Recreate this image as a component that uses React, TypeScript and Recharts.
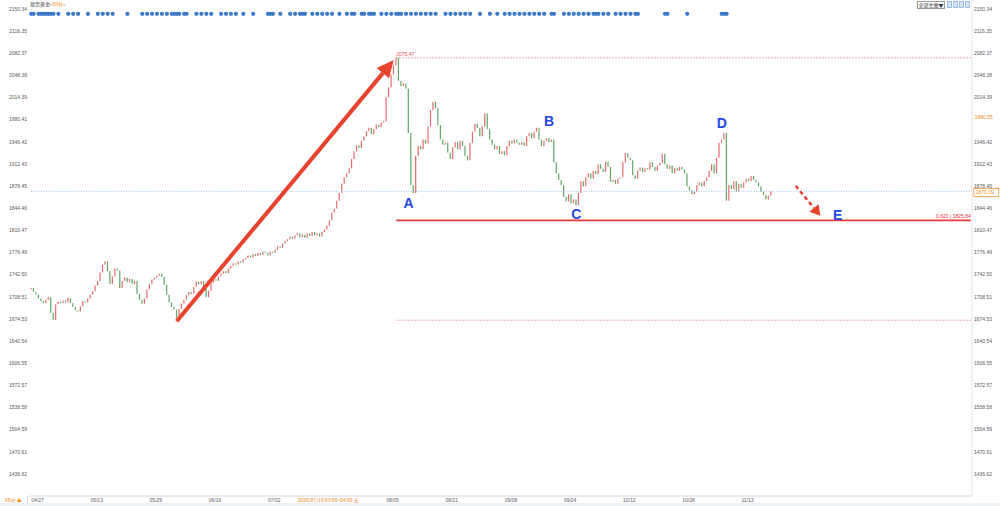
import React from "react";
import {
  ComposedChart,
  Bar,
  Scatter,
  XAxis,
  YAxis,
  ReferenceLine,
  ReferenceDot,
} from "recharts";

// 60-minute gold chart, sampled at two candles per trading day
const firstOpen = 1720;
const closesApr27 = [1722, 1716, 1712, 1706, 1702, 1699, 1704, 1708, 1684, 1673, 1697, 1701, 1699, 1703, 1700, 1707, 1699, 1693, 1688, 1686, 1694, 1702, 1700, 1706];
const closesMay13 = [1712, 1717, 1726, 1733, 1746, 1758, 1763, 1748, 1728, 1740, 1752, 1749, 1722, 1733, 1738, 1731, 1736, 1728, 1733, 1713, 1704, 1698, 1706, 1720];
const closesMay29 = [1728, 1735, 1738, 1741, 1744, 1739, 1727, 1712, 1700, 1693, 1689, 1676, 1690, 1698, 1704, 1711, 1716, 1713, 1724, 1732, 1728, 1733, 1722, 1708];
const closesJun16 = [1718, 1730, 1736, 1733, 1740, 1744, 1748, 1745, 1752, 1756, 1760, 1758, 1763, 1761, 1766, 1768, 1772, 1769, 1774, 1771, 1776, 1773, 1778, 1776];
const closesJul02 = [1772, 1778, 1776, 1781, 1786, 1784, 1790, 1794, 1797, 1801, 1798, 1803, 1806, 1800, 1804, 1799, 1806, 1802, 1808, 1803, 1806, 1801, 1808, 1812];
const closesJul20 = [1818, 1826, 1838, 1844, 1856, 1868, 1882, 1892, 1898, 1906, 1920, 1932, 1941, 1937, 1948, 1955, 1963, 1968, 1958, 1966, 1973, 1969, 1976, 1978];
const closesAug05 = [2015, 2030, 2050, 2064, 2075.47, 2040, 2032, 2036, 2028, 1960, 1880, 1868, 1925, 1940, 1935, 1950, 1944, 1970, 1995, 2008, 1998, 1972, 1950, 1942];
const closesAug21 = [1945, 1930, 1920, 1938, 1946, 1935, 1948, 1940, 1925, 1918, 1945, 1962, 1974, 1968, 1955, 1970, 1990, 1966, 1950, 1942, 1935, 1940, 1928, 1932];
const closesSep08 = [1926, 1940, 1948, 1944, 1950, 1945, 1942, 1946, 1940, 1955, 1960, 1952, 1962, 1968, 1950, 1940, 1948, 1952, 1946, 1950, 1915, 1898, 1888, 1880];
const closesSep24 = [1862, 1855, 1866, 1852, 1858, 1849, 1868, 1886, 1878, 1892, 1898, 1890, 1902, 1897, 1912, 1905, 1900, 1916, 1908, 1885, 1888, 1882, 1890, 1892];
const closesOct12 = [1915, 1929, 1922, 1918, 1895, 1890, 1902, 1907, 1900, 1906, 1904, 1915, 1908, 1902, 1910, 1914, 1928, 1912, 1905, 1910, 1898, 1906, 1902, 1908];
const closesOct28 = [1904, 1898, 1878, 1872, 1866, 1870, 1880, 1884, 1878, 1886, 1892, 1902, 1912, 1898, 1922, 1945, 1950, 1960, 1856, 1880, 1874, 1886, 1870, 1882];
const closesNov13 = [1876, 1884, 1890, 1886, 1894, 1888, 1884, 1878, 1870, 1865, 1858, 1864, 1870.39];

const closes = [
  ...closesApr27, ...closesMay13, ...closesMay29, ...closesJun16, ...closesJul02,
  ...closesJul20, ...closesAug05, ...closesAug21, ...closesSep08, ...closesSep24,
  ...closesOct12, ...closesOct28, ...closesNov13,
];

const totalSlots = 382; // candles + empty space on the right

const dateLabels: Record<number, string> = {
  0: "04/27", 24: "05/13", 48: "05/29", 72: "06/16", 96: "07/02",
  144: "08/05", 168: "08/21", 192: "09/08", 216: "09/24",
  240: "10/12", 264: "10/28", 288: "11/13",
};
const crossIdx = 108;
const crossLabel = "2020/07/10 03:00~04:00 五";

const priceTicks = [2150.34, 2116.35, 2082.37, 2048.38, 2014.39, 1980.41, 1946.42, 1912.43, 1878.45, 1844.46, 1810.47, 1776.49, 1742.5, 1708.51, 1674.53, 1640.54, 1606.55, 1572.57, 1538.58, 1504.59, 1470.61, 1436.62];
const priceDomain = [1402.84, 2164.15];

const eventIdx = [0, 1, 3, 4, 5, 6, 7, 8, 9, 11, 15, 17, 19, 23, 27, 29, 31, 33, 39, 45, 47, 49, 51, 53, 55, 57, 58, 59, 60, 62, 63, 67, 69, 71, 73, 77, 79, 81, 83, 86, 90, 96, 97, 98, 101, 105, 107, 109, 110, 111, 114, 116, 118, 120, 122, 125, 128, 130, 131, 134, 135, 137, 138, 139, 142, 144, 146, 148, 149, 150, 152, 154, 156, 158, 160, 162, 164, 168, 170, 172, 174, 176, 178, 182, 186, 189, 192, 194, 196, 198, 200, 202, 204, 206, 208, 211, 212, 216, 218, 220, 222, 224, 226, 228, 229, 230, 232, 234, 237, 239, 241, 243, 245, 246, 257, 258, 266, 280, 281, 282];
const markerLevel = 2143;

const peakPrice = 2075.47;
const lowPrice = 1672.6;
const fibLevel = 1825.84;
const lastPrice = 1870.39;
const crossPrice = 1980.55;
const hiddenRightTick = 1980.41; // covered by the crosshair price tag

const RED = "#e8432e";
const BLUE = "#1f47e8";
const ORANGE = "#f08a1c";
const TXT = "#5a5a5a";
const FONT = "'Liberation Sans', Arial, sans-serif";
const CJK = "'Noto Sans CJK SC', 'Liberation Sans', sans-serif";
const PLOT_LEFT = 30;

function buildRows() {
  const rows: any[] = [];
  let prev = firstOpen;
  for (let i = 0; i < totalSlots; i++) {
    const row: any = { i };
    if (i < closes.length) {
      const c = closes[i];
      row.body = [Math.min(prev, c), Math.max(prev, c)];
      row.up = c >= prev;
      prev = c;
    }
    rows.push(row);
  }
  return rows;
}

const Candle = (p: any) => {
  const { x, y, width, height, payload } = p;
  if (!Number.isFinite(x) || !Number.isFinite(y) || !payload || !payload.body) return <g />;
  const cx = x + width / 2;
  const top = height < 0 ? y + height : y;
  const h = Math.max(Math.abs(height), 1);
  return (
    <rect
      x={cx - 0.6}
      y={top}
      width={1.2}
      height={h}
      fill={payload.up ? "#e46a6a" : "#5fa663"}
    />
  );
};

const DateTick = (p: any) => {
  const { x, y, payload } = p;
  const idx = payload.value;
  if (idx === crossIdx) {
    return (
      <text x={x} y={y + 6} fontSize={5} fill={ORANGE} fontFamily={CJK}>
        {crossLabel}
      </text>
    );
  }
  const s = dateLabels[idx];
  if (!s) return <g />;
  return (
    <text x={x} y={y + 6} fontSize={5} fill={TXT} fontFamily={FONT}>
      {s}
    </text>
  );
};

// price labels drawn on both sides of the plot, at the right axis' tick positions
const PriceTick = (p: any) => {
  const { x, y, payload } = p;
  const v: number = payload.value;
  const s = v.toFixed(2);
  return (
    <g>
      <text x={PLOT_LEFT - 3} y={y} dy="0.35em" fontSize={5} fill={TXT} fontFamily={FONT} textAnchor="end">
        {s}
      </text>
      {v !== hiddenRightTick && (
        <text x={x} y={y} dy="0.35em" fontSize={5} fill={TXT} fontFamily={FONT} textAnchor="start">
          {s}
        </text>
      )}
    </g>
  );
};

const arrowShape = (dashed: boolean, w: number, head: number, half: number) => (p: any) => {
  const { x1, y1, x2, y2 } = p;
  if (![x1, y1, x2, y2].every(Number.isFinite)) return <g />;
  const ang = Math.atan2(y2 - y1, x2 - x1);
  const bx = x2 - head * Math.cos(ang);
  const by = y2 - head * Math.sin(ang);
  const nx = -Math.sin(ang);
  const ny = Math.cos(ang);
  return (
    <g>
      <line
        x1={x1}
        y1={y1}
        x2={bx}
        y2={by}
        stroke={RED}
        strokeWidth={w}
        strokeDasharray={dashed ? "4 3" : undefined}
      />
      <polygon
        points={`${x2},${y2} ${bx + nx * half},${by + ny * half} ${bx - nx * half},${by - ny * half}`}
        fill={RED}
      />
    </g>
  );
};

const waveLabel = (t: string) => (p: any) => (
  <text
    x={p.cx}
    y={p.cy}
    textAnchor="middle"
    dominantBaseline="central"
    fontSize={14}
    fontWeight="bold"
    fill={BLUE}
    fontFamily={FONT}
  >
    {t}
  </text>
);

const smallText = (t: string, color: string, dx: number, dy: number, anchor = "start") => (p: any) => (
  <text x={p.cx + dx} y={p.cy + dy} fontSize={5} fill={color} fontFamily={FONT} textAnchor={anchor}>
    {t}
  </text>
);

const crossTag = (p: any) => (
  <text x={p.cx + 4} y={p.cy - 1} fontSize={5} fill={ORANGE} fontFamily={FONT}>
    {crossPrice.toFixed(2)}
  </text>
);

const lastTag = (p: any) => (
  <g>
    <rect x={p.cx + 3} y={p.cy - 3} width={25} height={8} fill="#fff" stroke={ORANGE} strokeWidth={0.7} />
    <text x={p.cx + 5} y={p.cy + 2.6} fontSize={5} fill={ORANGE} fontFamily={FONT}>
      {lastPrice.toFixed(2)}
    </text>
    <text x={p.cx + 25.5} y={p.cy - 2} fontSize={4} fill={ORANGE} fontFamily={FONT}>
      ±
    </text>
  </g>
);

export default function App() {
  const rows = buildRows();
  const last = totalSlots - 1;

  return (
    <div style={{ position: "absolute", left: 0, top: 0, width: 1000, height: 506, background: "#fff", overflow: "hidden" }}>
      <ComposedChart
        width={1000}
        height={506}
        data={rows}
        margin={{ top: 0, right: 0, bottom: 0, left: PLOT_LEFT }}
        barCategoryGap="0%"
      >
        <XAxis
          dataKey="i"
          type="category"
          allowDuplicatedCategory={false}
          interval={0}
          height={10}
          tickLine={false}
          tickSize={0}
          tickMargin={0}
          axisLine={{ stroke: "#d6d6d6" }}
          tick={<DateTick />}
        />
        <YAxis
          yAxisId="R"
          orientation="right"
          width={28}
          type="number"
          domain={priceDomain}
          allowDataOverflow
          ticks={priceTicks}
          interval={0}
          tickLine={false}
          tickSize={0}
          tickMargin={2}
          axisLine={{ stroke: "#e3e3e3" }}
          tick={<PriceTick />}
        />

        <ReferenceLine yAxisId="R" x={0} stroke="#e3e3e3" strokeWidth={0.8} position="start" />
        <ReferenceLine yAxisId="R" y={lastPrice} stroke="#8ab6ea" strokeDasharray="1 1.5" strokeWidth={0.8} />
        <ReferenceLine
          yAxisId="R"
          segment={[{ x: 148, y: peakPrice }, { x: last, y: peakPrice }]}
          stroke="#f07a7a"
          strokeDasharray="1.5 1.5"
          strokeWidth={0.8}
        />
        <ReferenceLine
          yAxisId="R"
          segment={[{ x: 148, y: lowPrice }, { x: last, y: lowPrice }]}
          stroke="#f07a7a"
          strokeDasharray="1.5 1.5"
          strokeWidth={0.8}
        />
        <ReferenceLine
          yAxisId="R"
          segment={[{ x: 148, y: fibLevel }, { x: last, y: fibLevel }]}
          stroke="#e83a3a"
          strokeWidth={1.6}
        />

        <Bar yAxisId="R" dataKey="body" shape={Candle} isAnimationActive={false} />

        <Scatter
          yAxisId="R"
          data={eventIdx.map((i) => ({ i, evt: markerLevel }))}
          dataKey="evt"
          isAnimationActive={false}
          shape={(p: any) => <circle cx={p.cx} cy={p.cy} r={2.1} fill="#3a78c8" />}
        />

        <ReferenceLine
          yAxisId="R"
          segment={[{ x: 59, y: 1671 }, { x: 147, y: 2072 }]}
          shape={arrowShape(false, 4, 17, 8)}
        />
        <ReferenceLine
          yAxisId="R"
          segment={[{ x: 310, y: 1879 }, { x: 320, y: 1833 }]}
          shape={arrowShape(true, 2.5, 10, 6)}
        />

        <ReferenceDot yAxisId="R" x={153} y={1852.6} shape={waveLabel("A")} />
        <ReferenceDot yAxisId="R" x={210} y={1978.4} shape={waveLabel("B")} />
        <ReferenceDot yAxisId="R" x={221} y={1835.7} shape={waveLabel("C")} />
        <ReferenceDot yAxisId="R" x={280} y={1975.4} shape={waveLabel("D")} />
        <ReferenceDot yAxisId="R" x={327} y={1834.1} shape={waveLabel("E")} />

        <ReferenceDot yAxisId="R" x={148} y={peakPrice} shape={smallText(peakPrice.toFixed(2), "#e05050", 0, -2)} />
        <ReferenceDot yAxisId="R" x={last} y={fibLevel} shape={smallText("0.620 | " + fibLevel.toFixed(2), "#e03030", 0, -2, "end")} />
        <ReferenceDot yAxisId="R" x={last} y={crossPrice} shape={crossTag} />
        <ReferenceDot yAxisId="R" x={last} y={lastPrice} shape={lastTag} />
      </ComposedChart>

      <div style={{ position: "absolute", left: 30, top: 0, fontSize: 5, fontFamily: CJK, color: "#333", whiteSpace: "nowrap", lineHeight: "8px" }}>
        现货黄金<span style={{ color: ORANGE }}>«60分»</span>
      </div>
      <div style={{ position: "absolute", left: 917, top: 1, width: 26, height: 6, border: "1px solid #9a9a9a", fontSize: 5, fontFamily: CJK, color: "#333", lineHeight: "6px", textAlign: "center", whiteSpace: "nowrap" }}>
        全部主图▼
      </div>
      {[947, 953, 959, 965].map((x) => (
        <div key={x} style={{ position: "absolute", left: x, top: 1, width: 5, height: 7, background: "#d4e4f7", border: "1px solid #9bbde6", boxSizing: "border-box" }} />
      ))}
      <div style={{ position: "absolute", left: 0, top: 496, width: 28, height: 7, borderRight: "1px solid #d6d6d6", fontSize: 5, fontFamily: CJK, color: ORANGE, lineHeight: "7px", paddingLeft: 5, boxSizing: "border-box", whiteSpace: "nowrap" }}>
        60分 ▲
      </div>
      <div style={{ position: "absolute", left: 0, top: 503, width: 1000, height: 3, background: "#eef1f5" }} />
    </div>
  );
}
